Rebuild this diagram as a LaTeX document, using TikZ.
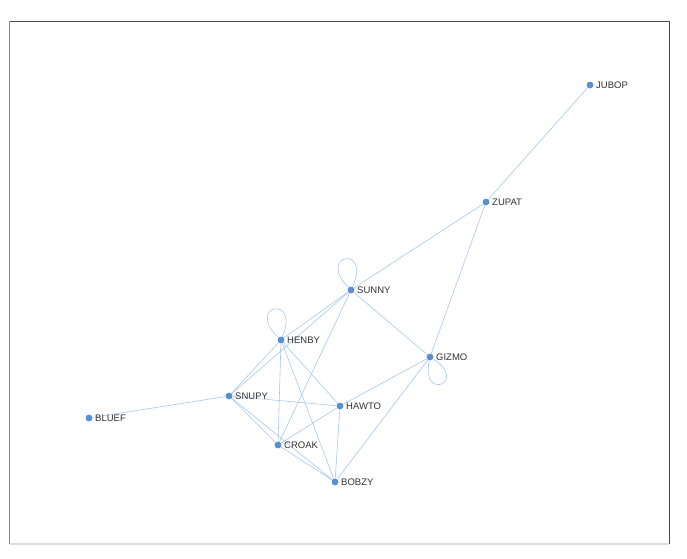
\documentclass[tikz,border=0pt]{standalone}
\usepackage{fontspec}
\setmainfont{Liberation Sans}
\begin{document}
\begin{tikzpicture}[x=1pt,y=-1pt,
  vtx/.style={circle,fill=dotblue,inner sep=0pt,minimum size=6.5pt},
  lbl/.style={font=\fontsize{9.5}{11}\selectfont,text=labelgray,anchor=west,inner sep=0pt,xshift=6pt},
  edg/.style={draw=edgeblue,line width=0.6pt},
  selfloop/.style={edg,min distance=47pt}]
\definecolor{dotblue}{RGB}{90,142,212}
\definecolor{edgeblue}{RGB}{168,200,236}
\definecolor{labelgray}{RGB}{50,50,50}
\useasboundingbox (0,0) rectangle (687,558);
\fill[white] (0,0) rectangle (687,558);
% frame
\draw[line width=1pt,draw=black!45] (9.5,544) -- (9.5,21);
\draw[line width=1.4pt,draw=black!13] (9.5,544) -- (669,544);
\draw[line width=1pt,draw=black!70] (9.5,21) -- (669,21) -- (669,544);
% vertices
\node[vtx] (jubop) at (590,85) {};
\node[vtx] (zupat) at (486,202) {};
\node[vtx] (sunny) at (351,290) {};
\node[vtx] (henby) at (281,340) {};
\node[vtx] (gizmo) at (430,357) {};
\node[vtx] (snupy) at (229,396) {};
\node[vtx] (hawto) at (340,406) {};
\node[vtx] (bluef) at (89,418) {};
\node[vtx] (croak) at (278,445) {};
\node[vtx] (bobzy) at (335,482) {};
% edges
\begin{scope}[on background layer/.style={}]
\draw[edg] (jubop) -- (zupat);
\draw[edg] (zupat) -- (sunny);
\draw[edg] (zupat) -- (gizmo);
\draw[edg] (sunny) -- (gizmo);
\draw[edg] (sunny) -- (henby);
\draw[edg] (sunny) -- (snupy);
\draw[edg] (sunny) -- (croak);
\draw[edg] (henby) -- (snupy);
\draw[edg] (henby) -- (croak);
\draw[edg] (henby) -- (bobzy);
\draw[edg] (henby) -- (hawto);
\draw[edg] (snupy) -- (hawto);
\draw[edg] (snupy) -- (croak);
\draw[edg] (snupy) -- (bobzy);
\draw[edg] (bluef) -- (snupy);
\draw[edg] (croak) -- (hawto);
\draw[edg] (croak) -- (bobzy);
\draw[edg] (hawto) -- (bobzy);
\draw[edg] (hawto) -- (gizmo);
\draw[edg] (gizmo) -- (bobzy);
\draw[selfloop] (sunny) to[out=135,in=65] (sunny);
\draw[selfloop] (henby) to[out=137,in=67] (henby);
\draw[selfloop] (gizmo) to[out=-32,in=-102,min distance=43pt] (gizmo);
\end{scope}
% redraw dots above edges
\foreach \n in {jubop,zupat,sunny,henby,gizmo,snupy,hawto,bluef,croak,bobzy}
  \fill[dotblue] (\n) circle (3.25pt);
% labels
\node[lbl] at (jubop) {JUBOP};
\node[lbl] at (zupat) {ZUPAT};
\node[lbl] at (sunny) {SUNNY};
\node[lbl] at (henby) {HENBY};
\node[lbl] at (gizmo) {GIZMO};
\node[lbl] at (snupy) {SNUPY};
\node[lbl] at (hawto) {HAWTO};
\node[lbl] at (bluef) {BLUEF};
\node[lbl] at (croak) {CROAK};
\node[lbl] at (bobzy) {BOBZY};
\end{tikzpicture}
\end{document}
